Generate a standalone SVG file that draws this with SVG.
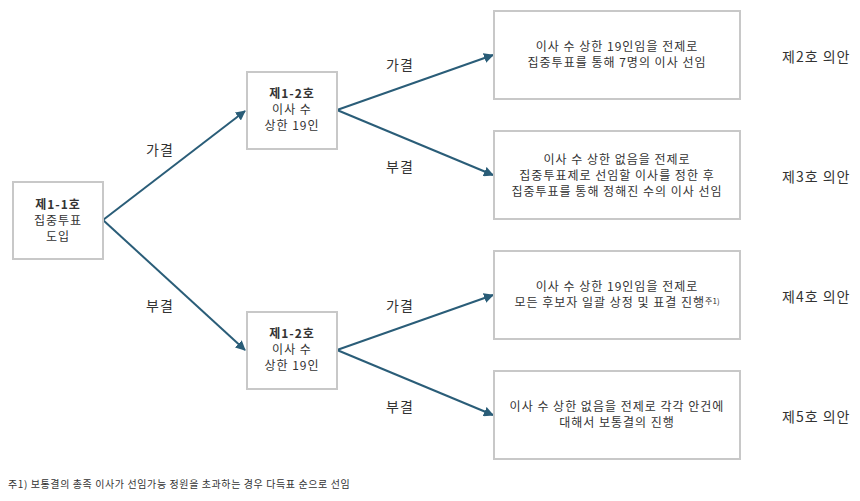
<svg xmlns="http://www.w3.org/2000/svg" width="860" height="501" viewBox="0 0 860 501">
<style>
text{font-family:"Noto Sans CJK KR","Noto Sans",sans-serif;fill:#333;text-anchor:middle;letter-spacing:1px}
.b{fill:#fff;stroke:#c8c8c8;stroke-width:2}
.t{font-size:12px}
.h{font-size:12px;font-weight:bold}
.l{font-size:14px}
.r{font-size:14px;text-anchor:start}
.c{stroke:#2a5d78;stroke-width:2;fill:none;marker-end:url(#a)}
</style>
<defs><marker id="a" viewBox="0 0 10 10" refX="9" refY="5" markerWidth="5" markerHeight="5" orient="auto"><path d="M0,0L10,5L0,10z" fill="#2a5d78"/></marker></defs>
<rect width="860" height="501" fill="#fff"/>
<g id="connectors">
<path class="c" d="M103,220L245,111"/><path class="c" d="M103,220L245,350"/>
<path class="c" d="M337,110L493,55"/><path class="c" d="M337,110L493,175"/>
<path class="c" d="M337,350L493,295"/><path class="c" d="M337,350L493,415"/>
<text class="l" x="160" y="155">가결</text><text class="l" x="160" y="311">부결</text>
<text class="l" x="400" y="70">가결</text><text class="l" x="400" y="172">부결</text>
<text class="l" x="400" y="311">가결</text><text class="l" x="400" y="412">부결</text>
</g>
<g id="n1"><rect class="b" x="13" y="182" width="90" height="77"/><text class="h" x="58" y="209">제1-1호</text><text class="t" x="58" y="225">집중투표</text><text class="t" x="58" y="241">도입</text></g>
<g id="n2"><rect class="b" x="247" y="72" width="90" height="77"/><text class="h" x="292" y="98">제1-2호</text><text class="t" x="292" y="114">이사 수</text><text class="t" x="292" y="130">상한 19인</text></g>
<g id="n3"><rect class="b" x="247" y="312" width="90" height="77"/><text class="h" x="292" y="338">제1-2호</text><text class="t" x="292" y="354">이사 수</text><text class="t" x="292" y="370">상한 19인</text></g>
<g id="n4"><rect class="b" x="494" y="11" width="246" height="88"/><text class="t" x="617" y="51">이사 수 상한 19인임을 전제로</text><text class="t" x="617" y="67">집중투표를 통해 7명의 이사 선임</text></g>
<g id="n5"><rect class="b" x="494" y="131" width="246" height="88"/><text class="t" x="617" y="164">이사 수 상한 없음을 전제로</text><text class="t" x="617" y="180">집중투표제로 선임할 이사를 정한 후</text><text class="t" x="617" y="196">집중투표를 통해 정해진 수의 이사 선임</text></g>
<g id="n6"><rect class="b" x="494" y="251" width="246" height="88"/><text class="t" x="617" y="291">이사 수 상한 19인임을 전제로</text><text class="t" x="617" y="307">모든 후보자 일괄 상정 및 표결 진행<tspan font-size="8" dy="-3" letter-spacing="0">주1)</tspan></text></g>
<g id="n7"><rect class="b" x="494" y="371" width="246" height="88"/><text class="t" x="617" y="411">이사 수 상한 없음을 전제로 각각 안건에</text><text class="t" x="617" y="427">대해서 보통결의 진행</text></g>
<text class="r" x="782" y="62">제2호 의안</text>
<text class="r" x="782" y="182">제3호 의안</text>
<text class="r" x="782" y="302">제4호 의안</text>
<text class="r" x="782" y="422">제5호 의안</text>
<text x="8" y="488" style="font-size:10px;text-anchor:start;letter-spacing:0.6px">주1) 보통결의 총족 이사가 선임가능 정원을 초과하는 경우 다득표 순으로 선임</text>
</svg>
